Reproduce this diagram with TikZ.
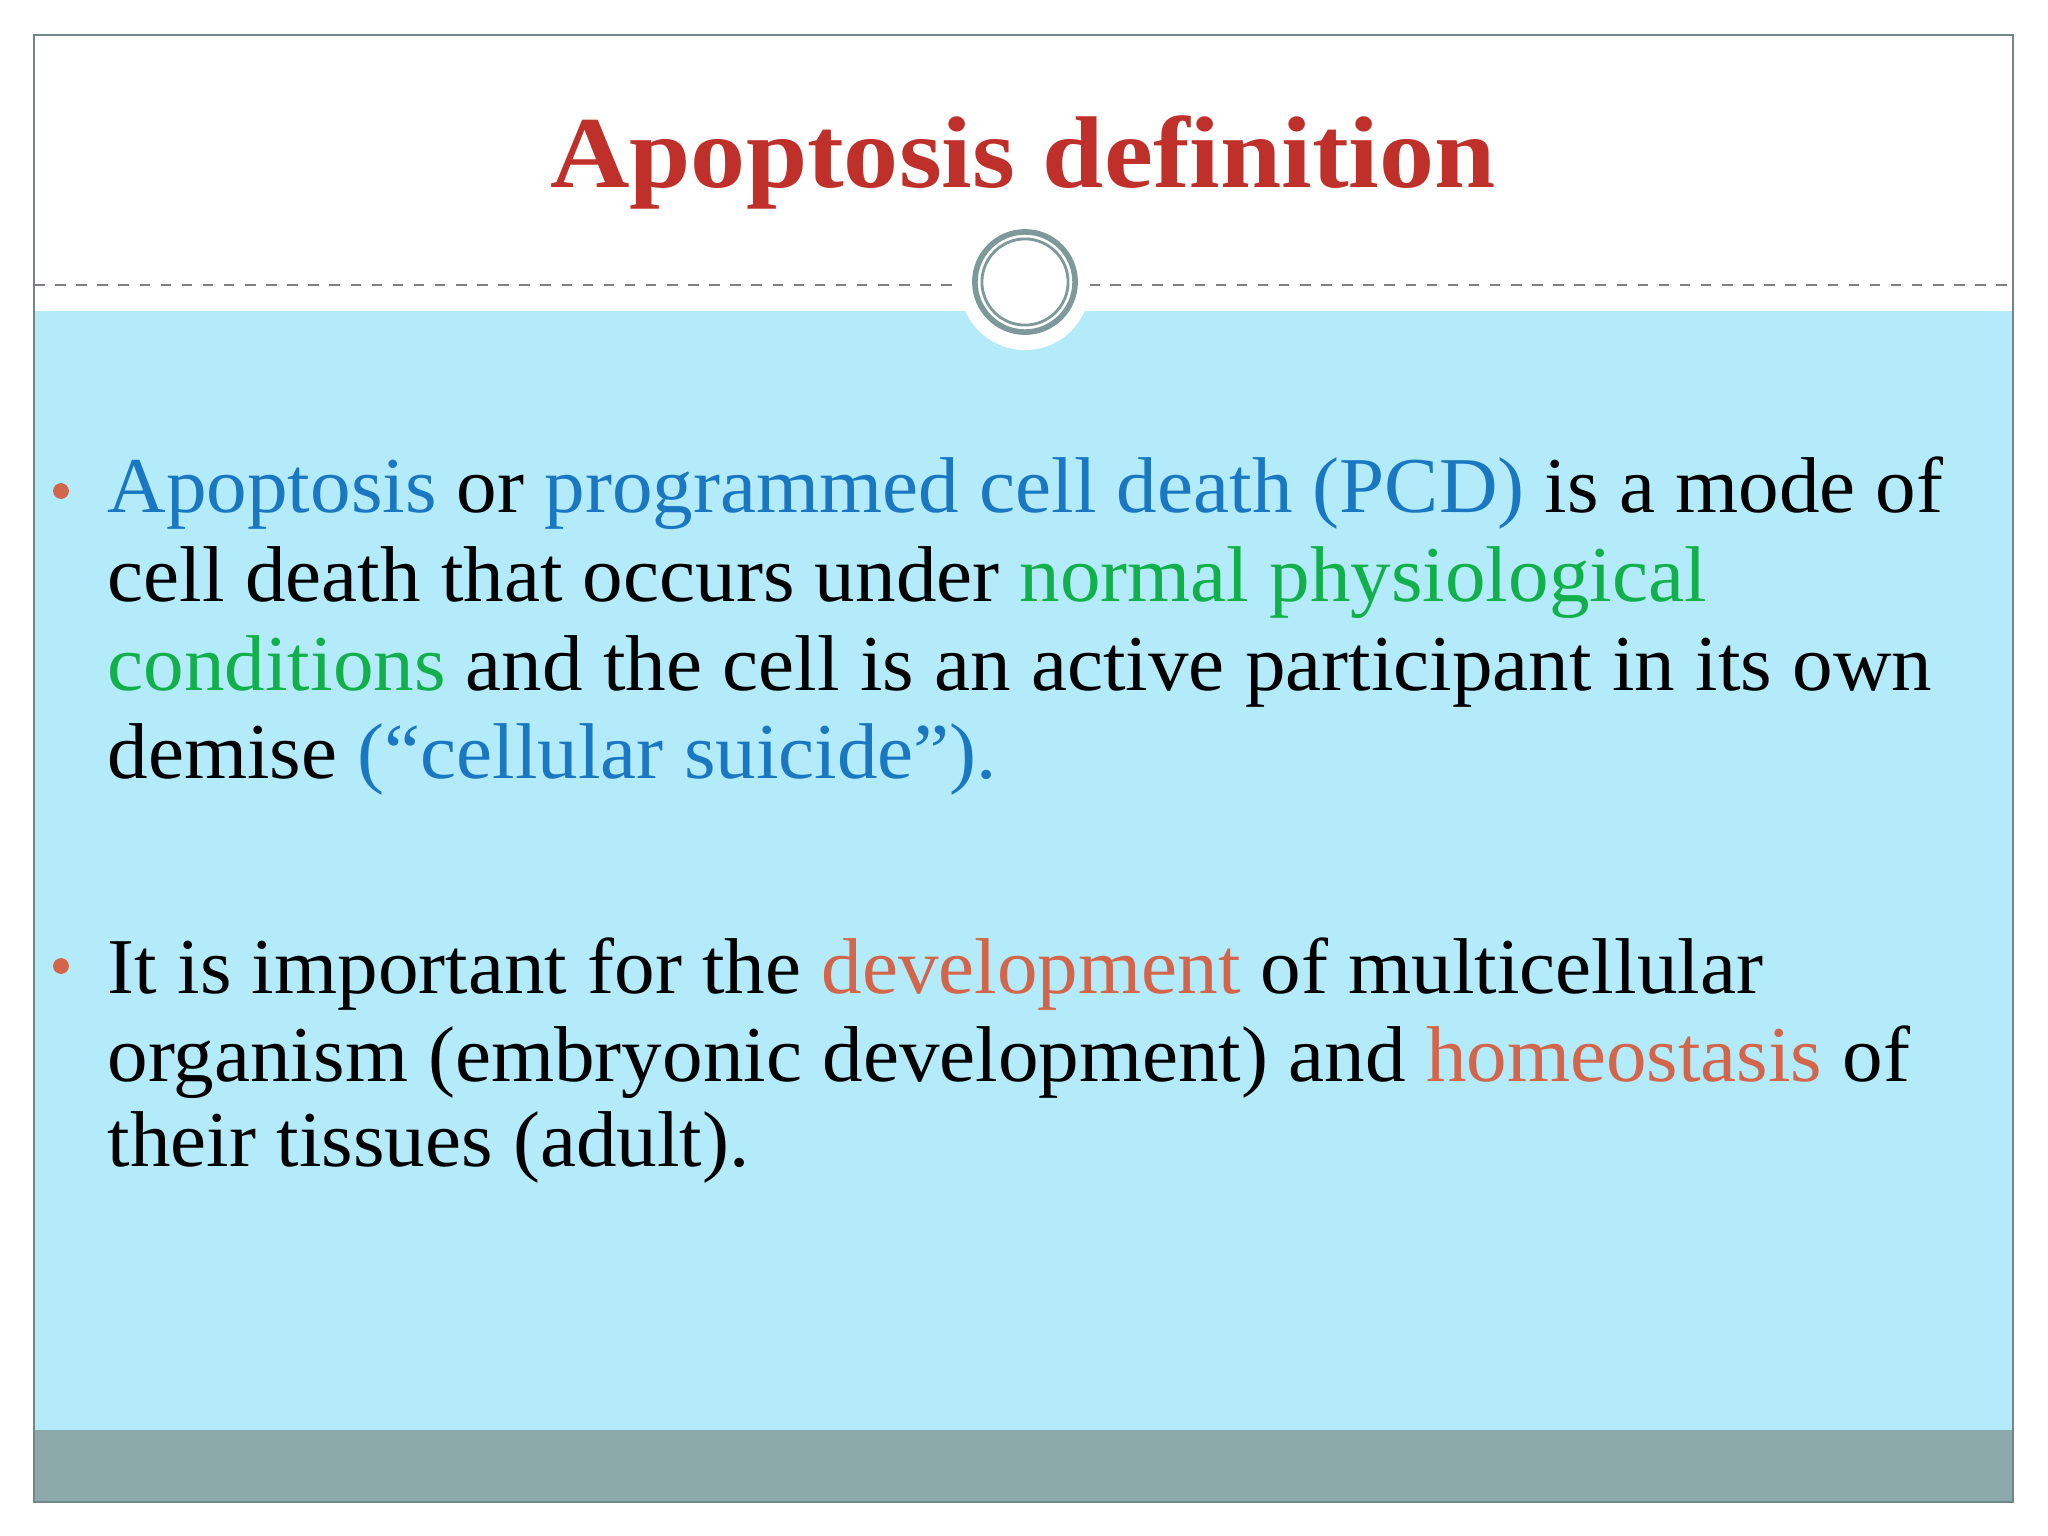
\documentclass[tikz,border=0pt]{standalone}
\usepackage{fontspec}
\setmainfont{Liberation Serif}
\definecolor{bgblue}{HTML}{B3EBFB}
\definecolor{band}{HTML}{8CAAAA}
\definecolor{tblue}{HTML}{1A78C2}
\definecolor{tgreen}{HTML}{12B04A}
\definecolor{torange}{HTML}{D3654B}
\definecolor{tred}{HTML}{C0302A}
\begin{document}
\begin{tikzpicture}[x=0.01cm,y=-0.01cm,
  body/.style={anchor=base west,inner sep=0pt,font=\fontsize{22.5}{27}\selectfont,xscale=1.025},
  bul/.style={circle,fill=torange,inner sep=0pt,minimum size=4.5pt}]
\useasboundingbox (0,0) rectangle (2048,1536);
\fill[white] (0,0) rectangle (2048,1536);
\fill[bgblue] (34,311) rectangle (2013,1430);
\fill[band] (34,1430) rectangle (2013,1502);
\draw[band!80!black,line width=0.8pt] (34,35) rectangle (2013,1502);
\draw[gray,dashed,line width=0.5pt] (34,285) -- (2013,285);
\node[circle,fill=white,minimum size=37pt,inner sep=0pt] (cw) at (1025,285) {};
\node[circle,draw=band!90!black,line width=1.6pt,minimum size=28.5pt,inner sep=0pt] (c1) at (1025,282) {};
\node[circle,draw=band!90!black,line width=0.8pt,minimum size=24.5pt,inner sep=0pt] (c2) at (1025,282) {};
\node[font=\fontsize{29}{34}\selectfont\bfseries,text=tred,xscale=1.08] (title) at (1023,162) {Apoptosis definition};
\node[bul] (b1) at (61,491) {};
\node[bul] (b2) at (61,966) {};
\node[body] (l1) at (107,512) {\textcolor{tblue}{Apoptosis} or \textcolor{tblue}{programmed cell death (PCD)} is a mode of};
\node[body] (l2) at (107,601) {cell death that occurs under \textcolor{tgreen}{normal physiological}};
\node[body] (l3) at (107,690) {\textcolor{tgreen}{conditions} and the cell is an active participant in its own};
\node[body] (l4) at (107,778) {demise \textcolor{tblue}{(“cellular suicide”).}};
\node[body] (m1) at (107,993) {It is important for the \textcolor{torange}{development} of multicellular};
\node[body] (m2) at (107,1081) {organism (embryonic development) and \textcolor{torange}{homeostasis} of};
\node[body] (m3) at (107,1166) {their tissues (adult).};
\end{tikzpicture}
\end{document}
